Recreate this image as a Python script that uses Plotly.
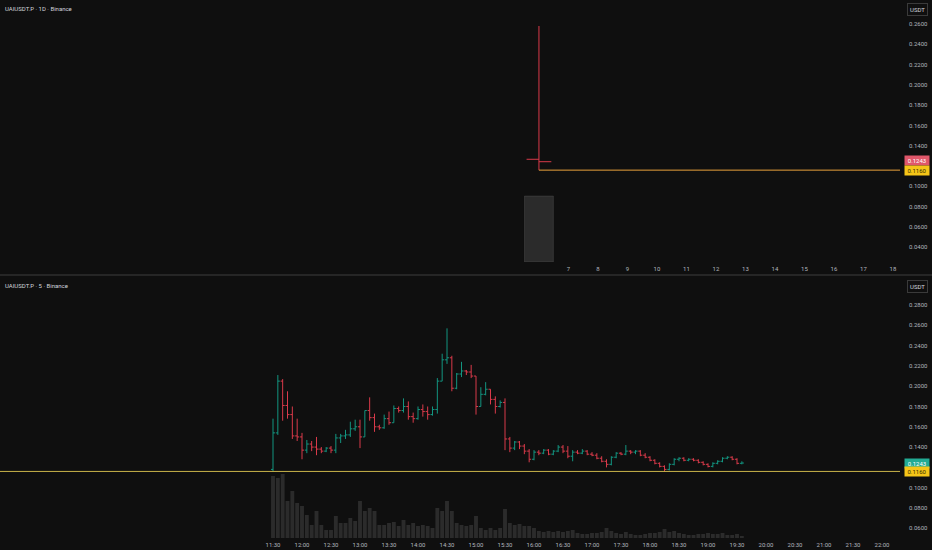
import pandas as pd
import plotly.graph_objects as go

symbol = "UAIUSDT.P"
exchange = "Binance"

# -- daily panel (1D): single listing-day bar, x = day of month --
day_x = [6]
day_open = [0.1267]
day_high = [0.2580]
day_low = [0.1160]
day_close = [0.1243]
day_volume = [1330]
day_labels = [7, 8, 9, 10, 11, 12, 13, 14, 15, 16, 17, 18]

# -- 5 minute panel, starting 11:30 --
start_5m = "2025-11-06 11:30"
open_5m = [0.118, 0.154, 0.205, 0.181, 0.172, 0.151, 0.150, 0.137, 0.143, 0.140,
           0.138, 0.136, 0.139, 0.137, 0.149, 0.151, 0.152, 0.158, 0.160, 0.150,
           0.176, 0.169, 0.160, 0.159, 0.168, 0.164, 0.178, 0.176, 0.180, 0.170,
           0.168, 0.177, 0.175, 0.172, 0.177, 0.205, 0.226, 0.228, 0.198, 0.212,
           0.215, 0.214, 0.210, 0.180, 0.192, 0.197, 0.187, 0.180, 0.184, 0.148,
           0.139, 0.145, 0.141, 0.136, 0.128, 0.135, 0.134, 0.137, 0.133, 0.136,
           0.140, 0.136, 0.131, 0.135, 0.134, 0.136, 0.133, 0.132, 0.129, 0.126,
           0.123, 0.130, 0.134, 0.133, 0.136, 0.135, 0.136, 0.132, 0.130, 0.127,
           0.124, 0.121, 0.118, 0.123, 0.128, 0.129, 0.127, 0.128, 0.127, 0.125,
           0.123, 0.121, 0.124, 0.126, 0.129, 0.130, 0.128, 0.124]
high_5m = [0.168, 0.211, 0.207, 0.195, 0.180, 0.168, 0.154, 0.147, 0.146, 0.150,
           0.140, 0.140, 0.141, 0.153, 0.153, 0.157, 0.165, 0.167, 0.167, 0.176,
           0.189, 0.173, 0.162, 0.172, 0.175, 0.181, 0.180, 0.188, 0.185, 0.174,
           0.180, 0.182, 0.180, 0.180, 0.208, 0.232, 0.257, 0.230, 0.213, 0.224,
           0.216, 0.221, 0.210, 0.199, 0.204, 0.197, 0.190, 0.186, 0.188, 0.150,
           0.146, 0.146, 0.143, 0.138, 0.137, 0.137, 0.138, 0.138, 0.137, 0.142,
           0.142, 0.141, 0.137, 0.137, 0.138, 0.137, 0.135, 0.134, 0.131, 0.128,
           0.131, 0.135, 0.135, 0.142, 0.137, 0.137, 0.137, 0.134, 0.131, 0.128,
           0.125, 0.122, 0.124, 0.129, 0.130, 0.130, 0.129, 0.129, 0.128, 0.126,
           0.124, 0.125, 0.127, 0.130, 0.131, 0.131, 0.129, 0.126]
low_5m = [0.116, 0.152, 0.166, 0.168, 0.148, 0.146, 0.128, 0.134, 0.136, 0.132,
          0.134, 0.135, 0.134, 0.134, 0.144, 0.148, 0.150, 0.156, 0.139, 0.150,
          0.166, 0.155, 0.157, 0.158, 0.162, 0.164, 0.174, 0.174, 0.167, 0.164,
          0.167, 0.170, 0.167, 0.171, 0.173, 0.205, 0.222, 0.195, 0.197, 0.209,
          0.211, 0.208, 0.172, 0.180, 0.191, 0.182, 0.173, 0.179, 0.137, 0.135,
          0.137, 0.138, 0.133, 0.125, 0.127, 0.132, 0.133, 0.132, 0.132, 0.135,
          0.134, 0.129, 0.126, 0.133, 0.133, 0.132, 0.131, 0.128, 0.125, 0.120,
          0.122, 0.129, 0.132, 0.132, 0.133, 0.133, 0.131, 0.129, 0.126, 0.123,
          0.120, 0.116, 0.117, 0.122, 0.126, 0.126, 0.126, 0.126, 0.124, 0.122,
          0.120, 0.120, 0.123, 0.125, 0.128, 0.127, 0.123, 0.123]
close_5m = [0.154, 0.205, 0.181, 0.172, 0.151, 0.150, 0.137, 0.143, 0.140, 0.138,
            0.136, 0.139, 0.137, 0.149, 0.151, 0.152, 0.158, 0.160, 0.150, 0.176,
            0.169, 0.160, 0.159, 0.168, 0.164, 0.178, 0.176, 0.180, 0.170, 0.168,
            0.177, 0.175, 0.172, 0.177, 0.205, 0.226, 0.228, 0.198, 0.212, 0.215,
            0.214, 0.210, 0.180, 0.192, 0.197, 0.187, 0.180, 0.184, 0.148, 0.139,
            0.145, 0.141, 0.136, 0.128, 0.135, 0.134, 0.137, 0.133, 0.136, 0.140,
            0.136, 0.131, 0.135, 0.134, 0.136, 0.133, 0.132, 0.129, 0.126, 0.123,
            0.130, 0.134, 0.133, 0.136, 0.135, 0.136, 0.132, 0.130, 0.127, 0.124,
            0.121, 0.118, 0.123, 0.128, 0.129, 0.127, 0.128, 0.127, 0.125, 0.123,
            0.121, 0.124, 0.126, 0.129, 0.130, 0.128, 0.124, 0.1243]
volume_5m = [620, 600, 640, 370, 470, 350, 320, 230, 130, 270,
             130, 80, 80, 220, 150, 150, 200, 170, 370, 270,
             300, 270, 130, 130, 150, 160, 120, 180, 130, 150,
             120, 130, 120, 100, 300, 270, 370, 270, 150, 130,
             120, 130, 220, 100, 80, 100, 80, 100, 290, 150,
             130, 140, 120, 120, 100, 70, 60, 70, 60, 70,
             60, 70, 80, 50, 40, 40, 50, 50, 60, 100,
             70, 50, 40, 60, 40, 30, 30, 40, 50, 50,
             60, 90, 60, 70, 50, 40, 30, 30, 40, 40,
             50, 40, 40, 50, 30, 30, 40, 20]
time_labels = pd.date_range("2025-11-06 11:30", "2025-11-06 22:00", freq="30min")

# price scale labels (0.12 is hidden behind the price tags)
top_price_ticks = [0.26, 0.24, 0.22, 0.20, 0.18, 0.16, 0.14, 0.10, 0.08, 0.06, 0.04]
bottom_price_ticks = [0.28, 0.26, 0.24, 0.22, 0.20, 0.18, 0.16, 0.14, 0.10, 0.08, 0.06]

ray_level = 0.1160
last_price = close_5m[-1]

UP = "#139580"
DOWN = "#d93a4a"
BG = "#0f0f0f"
TXT = "#b2b5be"
VOL = "rgba(120,120,120,0.28)"
FONT = "Roboto"

times_5m = pd.date_range(start_5m, periods=len(close_5m), freq="5min")
t0 = pd.Timestamp(start_5m)

fig = go.Figure()

# daily panel
fig.add_trace(go.Bar(x=day_x, y=day_volume, xaxis="x", yaxis="y",
                     marker=dict(color=VOL, line=dict(color="rgba(150,150,150,0.18)", width=1)),
                     width=0.98, showlegend=False, hoverinfo="skip"))
fig.add_trace(go.Ohlc(x=day_x, open=day_open, high=day_high, low=day_low, close=day_close,
                      xaxis="x", yaxis="y2", tickwidth=0.42,
                      increasing_line_color=UP, decreasing_line_color=DOWN,
                      line_width=1, showlegend=False))

# 5 minute panel
fig.add_trace(go.Bar(x=times_5m, y=volume_5m, xaxis="x2", yaxis="y3",
                     marker=dict(color=VOL, line_width=0), width=300000 * 0.8,
                     showlegend=False, hoverinfo="skip"))
fig.add_trace(go.Ohlc(x=times_5m, open=open_5m, high=high_5m, low=low_5m, close=close_5m,
                      xaxis="x2", yaxis="y4", tickwidth=0.42,
                      increasing_line_color=UP, decreasing_line_color=DOWN,
                      line_width=1, showlegend=False))

axis_font = dict(family=FONT, size=6, color=TXT)
top_dom = [0.513, 1.0]
bot_dom = [0.0, 0.4851]

fig.update_layout(
    width=932, height=550,
    margin=dict(l=0, r=32, t=0, b=12),
    paper_bgcolor=BG, plot_bgcolor=BG,
    font=dict(family=FONT, color=TXT),
    showlegend=False,
    xaxis=dict(domain=[0, 1], anchor="y", range=[6 - 18.27, 6 + 12.24],
               tickvals=day_labels, ticktext=[str(d) for d in day_labels],
               showgrid=False, zeroline=False, rangeslider=dict(visible=False),
               tickfont=axis_font, ticks="", ticklabelstandoff=2),
    yaxis=dict(domain=top_dom, anchor="x", range=[0, day_volume[0] * 262 / 66], visible=False),
    yaxis2=dict(overlaying="y", anchor="x", side="right", range=[0.0255, 0.2836],
                tickvals=top_price_ticks, ticktext=[f"{v:.4f}" for v in top_price_ticks],
                showgrid=False, zeroline=False, tickfont=axis_font, ticks="",
                ticklabelstandoff=8),
    xaxis2=dict(domain=[0, 1], anchor="y3", type="date",
                range=[t0 - pd.Timedelta(minutes=282.4), t0 + pd.Timedelta(minutes=648.6)],
                tickvals=time_labels, ticktext=[t.strftime("%H:%M") for t in time_labels],
                showgrid=False, zeroline=False, rangeslider=dict(visible=False),
                tickfont=axis_font, ticks="", ticklabelstandoff=2),
    yaxis3=dict(domain=bot_dom, anchor="x2", range=[0, max(volume_5m) * 261 / 64], visible=False),
    yaxis4=dict(overlaying="y3", anchor="x2", side="right", range=[0.0504, 0.3076],
                tickvals=bottom_price_ticks, ticktext=[f"{v:.4f}" for v in bottom_price_ticks],
                showgrid=False, zeroline=False, tickfont=axis_font, ticks="",
                ticklabelstandoff=8),
)

# horizontal ray at the listing low, panel separator
fig.add_shape(type="line", xref="x", yref="y2", x0=day_x[0], x1=day_x[0] + 40,
              y0=ray_level, y1=ray_level, line=dict(color="#e9a23b", width=1))
fig.add_shape(type="line", xref="x2", yref="y4", x0=t0 - pd.Timedelta(hours=10),
              x1=t0 + pd.Timedelta(hours=14), y0=ray_level, y1=ray_level,
              line=dict(color="#c9b44a", width=1))
fig.add_shape(type="line", xref="paper", yref="paper", x0=0, x1=932 / 900,
              y0=0.4888, y1=0.4888, line=dict(color="#262626", width=2))


def tag(text, yref, y, bg, fg):
    fig.add_annotation(xref="paper", x=1, xanchor="left", xshift=4, yref=yref, y=y,
                       text=text, showarrow=False, bgcolor=bg, width=22, height=7,
                       font=dict(family=FONT, size=6, color=fg), borderpad=1)


tag(f"{last_price:.4f}", "y2", last_price + 0.001, "#e0576a", "#ffffff")
tag(f"{ray_level:.4f}", "y2", ray_level - 0.0003, "#f5c518", "#3a2f00")
tag(f"{last_price:.4f}", "y4", last_price, "#22ab94", "#ffffff")
tag(f"{ray_level:.4f}", "y4", ray_level - 0.0003, "#f5c518", "#3a2f00")

# panel titles and currency badges
for yref, interval in [("y domain", "1D"), ("y3 domain", "5")]:
    fig.add_annotation(xref="paper", x=0, xanchor="left", xshift=3, yref=yref, y=1,
                       yanchor="top", yshift=-3, showarrow=False,
                       text=f"{symbol} · {interval} · {exchange}",
                       font=dict(family=FONT, size=6, color="#d1d4dc"))
    fig.add_annotation(xref="paper", x=1, xanchor="left", xshift=7, yref=yref, y=1,
                       yanchor="top", yshift=-3, showarrow=False, text="USDT",
                       bordercolor="#3a3a3a", borderwidth=1, borderpad=2,
                       font=dict(family=FONT, size=6, color="#d1d4dc"))

fig.write_html("out.html", config={"displayModeBar": False},
               post_script="document.body.style.margin='0';document.body.style.overflow='hidden';")
